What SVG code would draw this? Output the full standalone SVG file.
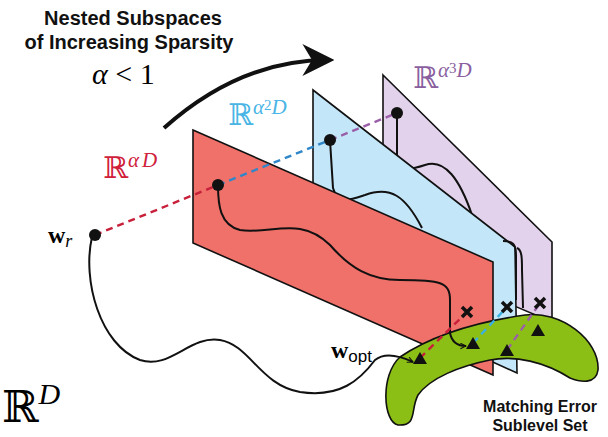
<svg xmlns="http://www.w3.org/2000/svg" width="608" height="437" viewBox="0 0 608 437">
<style>
.pl{stroke:#111;stroke-width:1.6;stroke-linejoin:miter}
.cv{fill:none;stroke:#111;stroke-width:2}
.dash{fill:none;stroke-width:2.4;stroke-dasharray:7,5}
.t{font-family:"Liberation Sans",sans-serif;font-weight:bold;fill:#111;text-anchor:middle}
.m{font-family:"Liberation Serif","DejaVu Serif",serif}
</style>
<defs>
<marker id="ah" viewBox="0 0 10 10" refX="9" refY="5" markerWidth="7" markerHeight="7" orient="auto" markerUnits="userSpaceOnUse"><path d="M1,1 L9,5 L1,9" fill="none" stroke="#111" stroke-width="1.5"/></marker>
<marker id="big" viewBox="0 0 10 10" refX="8" refY="5" markerWidth="8" markerHeight="8" orient="auto"><path d="M0,0 L10,5 L0,10 L3,5 Z" fill="#111"/></marker>
</defs>
<g id="title"><text class="t" x="133" y="25" font-size="20">Nested Subspaces</text><text class="t" x="129" y="49" font-size="20">of Increasing Sparsity</text></g>
<g id="alpha"><text class="m" x="92" y="84" font-size="30"><tspan font-style="italic">α</tspan> &lt; 1</text>
<path d="M164,128 Q240,60 328,60" fill="none" stroke="#111" stroke-width="4" marker-end="url(#big)"/></g>
<g id="purple">
<polygon class="pl" points="383,75 552,242 552,322 383,250" fill="#e3d2ec"/>
<path class="cv" d="M397,113 L397,158 C400,172 410,170 425,165 C445,158 460,180 472,215"/>
<text class="m" x="413" y="88" font-size="30" fill="#8a5fa0">ℝ<tspan font-style="italic" font-size="21" dy="-11">α</tspan><tspan font-size="15" dy="-4">3</tspan><tspan font-style="italic" font-size="21" dy="4">D</tspan></text>
</g>
<g id="blue">
<polygon class="pl" points="313,90 515,247 517,373 313,280" fill="#c3e6f8"/>
<path class="cv" d="M330,140 L333,188 C338,205 350,200 365,195 C390,186 405,195 422,228"/>
<path class="cv" d="M503,241 C513,241 516,244 516,255 L516,300"/>
<path class="cv" d="M517,248 C522,250 522,258 522,270 L523,308"/>
<text class="m" x="228" y="125" font-size="30" fill="#4ab5e5">ℝ<tspan font-style="italic" font-size="21" dy="-11">α</tspan><tspan font-size="15" dy="-4">2</tspan><tspan font-style="italic" font-size="21" dy="4">D</tspan></text>
</g>
<g id="red">
<polygon class="pl" points="193,130 493,262 493,375 193,243" fill="#f0706a"/>
<text class="m" x="103" y="178" font-size="30" fill="#d0203a">ℝ<tspan font-style="italic" font-size="21" dy="-11">α</tspan><tspan font-style="italic" font-size="21" dx="3">D</tspan></text>
</g>
<g id="blob">
<path class="pl" fill="#8cbf15" stroke-width="2" d="M400,357 C440,330 490,320 525,315 C560,310 600,340 598,370 C596,385 580,382 570,378 C545,362 515,355 490,360 C460,366 430,378 418,395 C410,410 418,426 398,425 C383,422 380,375 400,357 Z"/>
<text class="t" x="540" y="412" font-size="16">Matching Error</text>
<text class="t" x="540" y="431" font-size="16">Sublevel Set</text>
</g>
<g id="connectors">
<path class="dash" stroke="#c8203a" d="M95,235 L218,185"/>
<path class="dash" stroke="#2f86c8" d="M218,185 L330,140"/>
<path class="dash" stroke="#9a5fa8" d="M330,140 L397,113"/>
<path class="cv" d="M218,185 C218,205 220,225 240,230 C270,235 300,215 330,245 C350,268 370,280 400,280 C440,280 450,282 450,300 L450,333 C452,343 458,346 466,346" marker-end="url(#ah)"/>
<path class="cv" d="M92,237 C82,280 100,345 140,360 C170,370 190,335 220,340 C250,345 260,385 300,392 C340,398 360,380 375,360 C385,352 400,356 413,362" marker-end="url(#ah)"/>
<path class="dash" stroke="#c8203a" stroke-width="2" d="M420,358 L467,312"/>
<path class="dash" stroke="#3bb0e0" stroke-width="2" d="M473,343 L507,307"/>
<path class="dash" stroke="#9a5fa8" stroke-width="2" d="M507,350 L540,303"/>
</g>
<g id="points" fill="#111">
<circle cx="95" cy="235" r="6"/><circle cx="218" cy="185" r="6"/><circle cx="330" cy="140" r="6"/><circle cx="397" cy="113" r="6"/>
<path d="M420,352 l7,12 h-14Z M473,337 l7,12 h-14Z M507,344 l7,12 h-14Z M538,324 l7,12 h-14Z"/>
<g stroke="#111" stroke-width="3.5"><path d="M462,307 l10,10 M472,307 l-10,10 M502,302 l10,10 M512,302 l-10,10 M535,298 l10,10 M545,298 l-10,10"/></g>
</g>
<g id="labels">
<text class="m" x="48" y="243" font-size="24" font-weight="bold">w<tspan font-style="italic" font-weight="normal" font-size="18" dy="4">r</tspan></text>
<text class="m" x="331" y="358" font-size="24" font-weight="bold">w<tspan font-family="Liberation Sans,sans-serif" font-weight="normal" font-size="17" dy="4">opt</tspan></text>
<text class="m" x="2" y="422" font-size="44">ℝ<tspan font-style="italic" font-size="30" dy="-18">D</tspan></text>
</g>
</svg>
